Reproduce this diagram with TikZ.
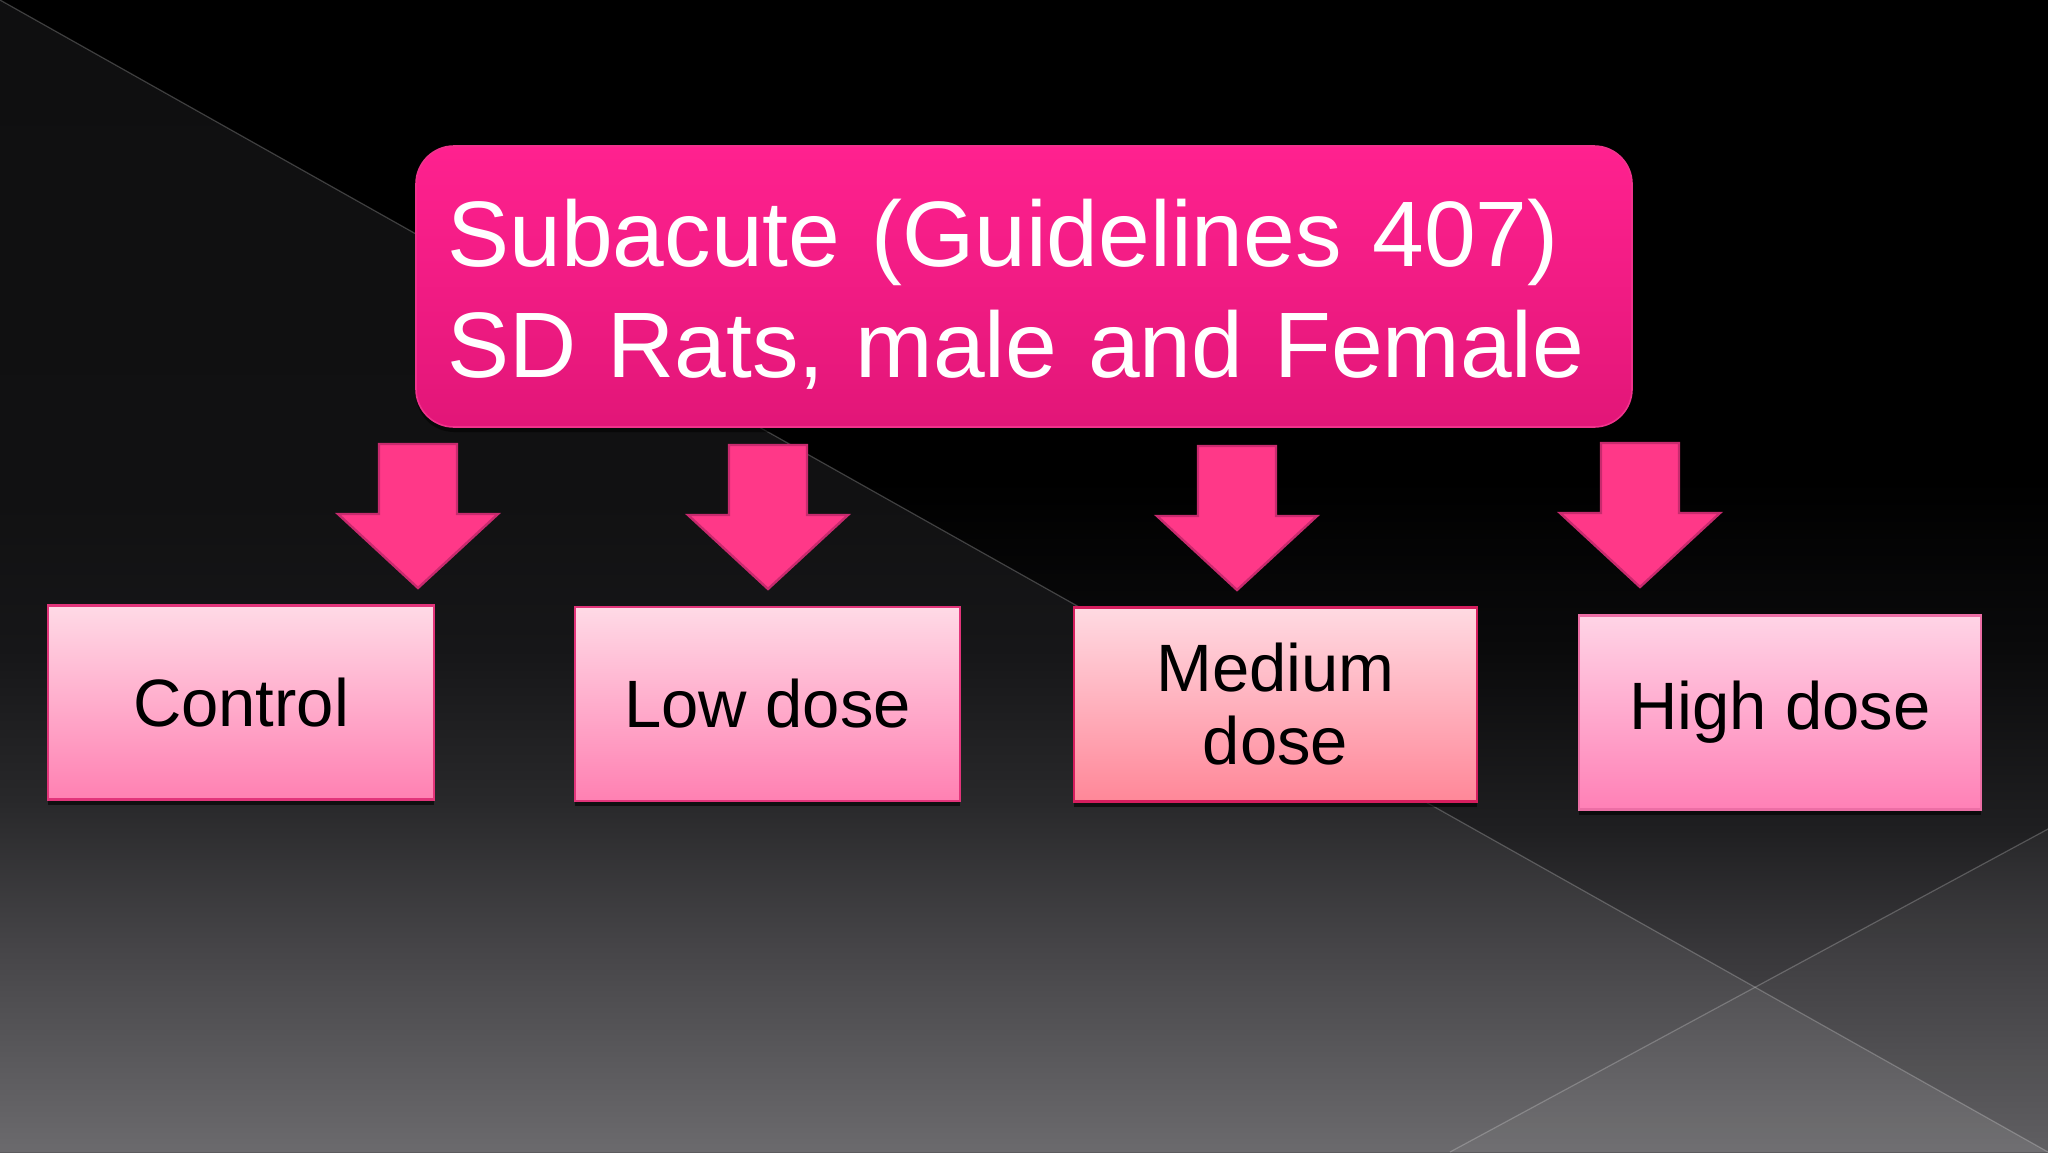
\documentclass[tikz,border=0pt]{standalone}
\usepackage{fontspec}
\setmainfont{Liberation Sans}
\usetikzlibrary{calc,shadows}
% upper-right background (darker)
\definecolor{bgAa}{HTML}{5A595C}
\definecolor{bgAb}{HTML}{38373A}
\definecolor{bgAc}{HTML}{1F1F21}
\definecolor{bgAd}{HTML}{0A0A0B}
% lower-left background (lighter)
\definecolor{bgBa}{HTML}{6B6A6D}
\definecolor{bgBb}{HTML}{464548}
\definecolor{bgBc}{HTML}{28282A}
\definecolor{bgBd}{HTML}{161618}
\definecolor{bgBe}{HTML}{111112}
\definecolor{bgBf}{HTML}{0F0F10}
\pgfdeclareverticalshading{bgupper}{100bp}{color(0bp)=(bgAa); color(25bp)=(bgAa); color(33.77bp)=(bgAb); color(38.98bp)=(bgAc); color(46.8bp)=(bgAd); color(54.2bp)=(black); color(75bp)=(black); color(100bp)=(black)}
\pgfdeclareverticalshading{bglower}{100bp}{color(0bp)=(bgBa); color(25bp)=(bgBa); color(33.77bp)=(bgBb); color(40.28bp)=(bgBc); color(46.8bp)=(bgBd); color(53.3bp)=(bgBe); color(75bp)=(bgBf); color(100bp)=(bgBf)}
\definecolor{mainTop}{RGB}{255,33,143}
\definecolor{mainBot}{RGB}{226,22,120}
\definecolor{mainEdge}{RGB}{240,50,140}
\definecolor{arrowFill}{RGB}{255,56,136}
\definecolor{arrowEdge}{RGB}{200,42,110}
\definecolor{boxTop}{RGB}{255,218,230}
\definecolor{boxBot}{RGB}{255,128,178}
\definecolor{boxEdge}{RGB}{226,52,122}
\definecolor{medTop}{RGB}{255,218,226}
\definecolor{medBot}{RGB}{255,135,152}
\definecolor{medEdge}{RGB}{214,30,94}
\definecolor{highTop}{RGB}{255,212,230}
\definecolor{highBot}{RGB}{255,128,182}
\definecolor{highEdge}{RGB}{236,110,165}
\newcommand\pinkblockarrow[1]{%
  \draw[arrowshape] ($(#1)+(-39,0)$) -- ($(#1)+(39,0)$) -- ($(#1)+(39,70)$)
    -- ($(#1)+(80,70)$) -- ($(#1)+(0,144)$) -- ($(#1)+(-80,70)$)
    -- ($(#1)+(-39,70)$) -- cycle;}
\begin{document}
\begin{tikzpicture}[x=0.5pt,y=-0.5pt,
  bgline/.style={white,opacity=0.22,line width=0.6pt},
  arrowshape/.style={fill=arrowFill,draw=arrowEdge,line width=1.2pt,line join=miter},
  mainbox/.style={rounded corners=19pt,minimum width=608pt,minimum height=140.5pt,
    top color=mainTop,bottom color=mainBot,draw=mainEdge,line width=0.8pt,
    drop shadow={fill=black,opacity=0.5,shadow xshift=0pt,shadow yshift=-2.5pt}},
  dosebox/.style={minimum height=97pt,inner sep=0pt,align=center,text=black,
    font=\fontsize{33.5pt}{36.5pt}\selectfont,line width=1.1pt,
    drop shadow={fill=black,opacity=0.6,shadow xshift=0pt,shadow yshift=-2.5pt}},
  pinkbox/.style={dosebox,top color=boxTop,bottom color=boxBot,draw=boxEdge},
  medbox/.style={dosebox,top color=medTop,bottom color=medBot,draw=medEdge},
  highbox/.style={dosebox,top color=highTop,bottom color=highBot,draw=highEdge}
]
\useasboundingbox (0,0) rectangle (2048,1152);
% background
\shade[shading=bgupper] (0,0) rectangle (2048,1152);
\shade[shading=bglower] (0,0) -- (2048,1152) -- (0,1152) -- cycle;
\fill[white,opacity=0.04] (1450,1152) -- (2048,829) -- (2048,1152) -- cycle;
\draw[bgline] (0,0) -- (2048,1152);
\draw[bgline] (2048,829) -- (1450,1152);
% main box
\node[mainbox] (main) at (1024,286.5) {};
\node[anchor=base west,text width=590pt,align=left,inner sep=0pt,text=white,
  font=\fontsize{46.5pt}{55.5pt}\selectfont] (maintitle) at (447,266)
  {Subacute (Guidelines 407)\\SD Rats, male and Female};
% block arrows
\coordinate (a1) at (418,444);
\coordinate (a2) at (768,445);
\coordinate (a3) at (1237,446);
\coordinate (a4) at (1640,443);
\pinkblockarrow{a1}
\pinkblockarrow{a2}
\pinkblockarrow{a3}
\pinkblockarrow{a4}
% dose boxes
\node[pinkbox,minimum width=193pt] (control) at (241,702.5) {Control};
\node[pinkbox,minimum width=192.5pt] (low) at (767.5,704) {Low dose};
\node[medbox,minimum width=201.5pt] (medium) at (1275.5,704.5) {Medium\\dose};
\node[highbox,minimum width=201pt] (high) at (1780,712.5) {High dose};
\end{tikzpicture}
\end{document}
